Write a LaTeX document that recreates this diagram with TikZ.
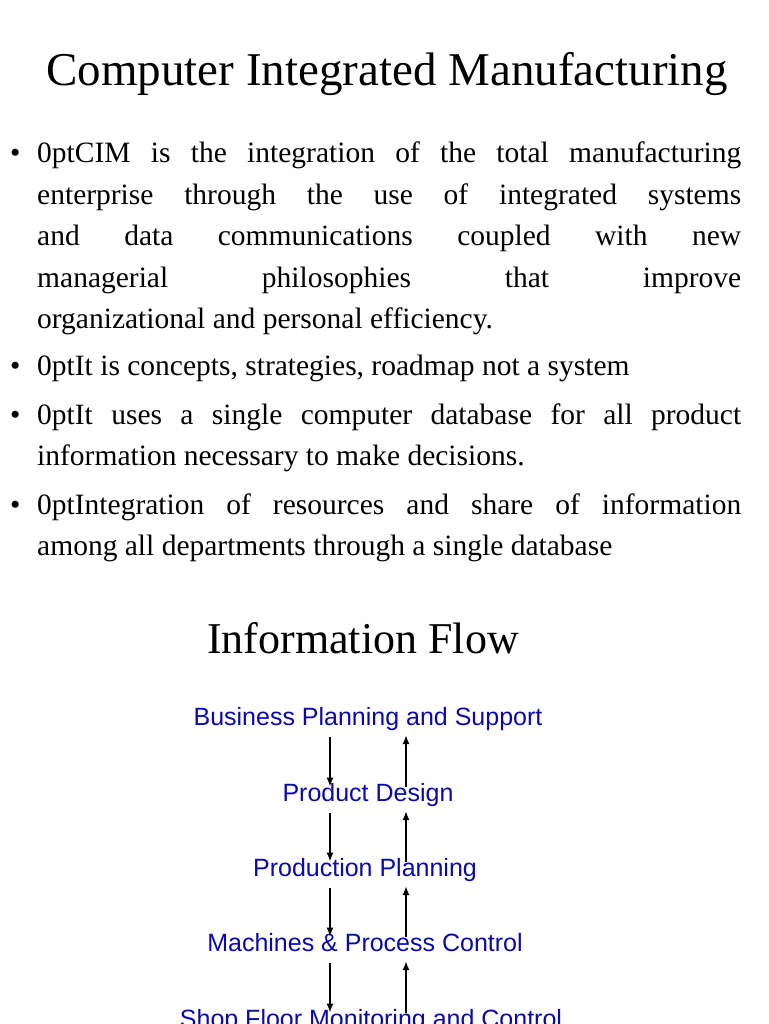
\documentclass[tikz,border=0pt]{standalone}
\usepackage{fontspec}
\usetikzlibrary{arrows.meta}
\setmainfont{Liberation Serif}
\newfontfamily\flowfont{Liberation Sans}
\definecolor{flowblue}{RGB}{10,10,170}
\begin{document}
\begin{tikzpicture}[x=1pt,y=1pt,
  para/.style={anchor=base west,inner sep=0,text width=704pt,align=justify,font=\fontsize{29.5}{41.5}\selectfont\hyphenpenalty=10000\relax},
  bul/.style={anchor=base west,inner sep=0,font=\fontsize{29.5}{41.5}\selectfont},
  flow/.style={inner sep=0,anchor=base,text=flowblue,font=\flowfont\fontsize{25}{28}\selectfont},
  arr/.style={-{Latex[length=9pt,width=7pt]},line width=1.8pt}]
\useasboundingbox (0,0) rectangle (768,-1024);
\node[inner sep=0,anchor=base,font=\fontsize{47}{52}\selectfont] (t) at (387,-86) {Computer Integrated Manufacturing};
\node[para] (p1) at (37,-163) {CIM is the integration of the total manufacturing\linebreak enterprise through the use of integrated systems\linebreak and data communications coupled with new\linebreak managerial philosophies that improve\linebreak organizational and personal efficiency.\par};
\node[bul] (b1) at (10,-163) {\textbullet};
\node[para] (p2) at (37,-375) {It is concepts, strategies, roadmap not a system\par};
\node[bul] (b2) at (10,-375) {\textbullet};
\node[para] (p3) at (37,-424) {It uses a single computer database for all product\linebreak information necessary to make decisions.\par};
\node[bul] (b3) at (10,-424) {\textbullet};
\node[para] (p4) at (37,-514) {Integration of resources and share of information\linebreak among all departments through a single database\par};
\node[bul] (b4) at (10,-514) {\textbullet};
\node[inner sep=0,anchor=base,font=\fontsize{44}{50}\selectfont] (it) at (363,-653) {Information Flow};
\node[flow] (f1) at (368,-725) {Business Planning and Support};
\node[flow] (f2) at (368,-801) {Product Design};
\node[flow] (f3) at (365,-876) {Production Planning};
\node[flow] (f4) at (365,-951) {Machines \& Process Control};
\node[flow] (f5) at (371,-1027) {Shop Floor Monitoring and Control};
\foreach \a/\b in {f1/f2,f2/f3,f3/f4,f4/f5}{
  \draw[arr] ([yshift=-12pt]330,0 |- \a.base) -- ([yshift=-4pt]330,0 |- \b.north);
  \draw[arr] ([yshift=-4pt]406,0 |- \b.north) -- ([yshift=-10pt]406,0 |- \a.base);
}
\end{tikzpicture}
\end{document}
